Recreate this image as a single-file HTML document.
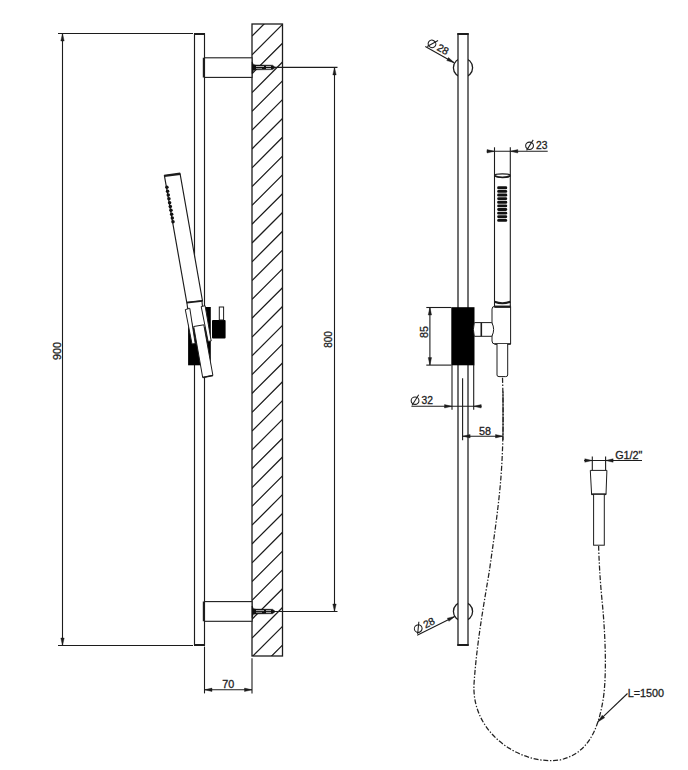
<!DOCTYPE html>
<html><head><meta charset="utf-8"><style>
html,body{margin:0;padding:0;background:#fff;}
svg{display:block;font-family:"Liberation Sans",sans-serif;}
</style></head><body>
<svg width="688" height="770" viewBox="0 0 688 770">
<rect width="688" height="770" fill="#fff"/>
<line x1="58" y1="33.5" x2="193" y2="33.5" stroke="#1c1c1c" stroke-width="1.1" />
<line x1="58" y1="645.5" x2="193" y2="645.5" stroke="#1c1c1c" stroke-width="1.1" />
<line x1="62.5" y1="33.5" x2="62.5" y2="645.5" stroke="#1c1c1c" stroke-width="1.1" />
<polygon points="62.50,33.50 64.20,41.00 60.80,41.00" fill="#1c1c1c" stroke="#1c1c1c" stroke-width="0.4" />
<polygon points="62.50,645.50 60.80,638.00 64.20,638.00" fill="#1c1c1c" stroke="#1c1c1c" stroke-width="0.4" />
<text x="60.6" y="351" font-size="10.8" text-anchor="middle" fill="#1e1e1e" stroke="#1e1e1e" stroke-width="0.3" transform="rotate(-90 60.6 351)">900</text>
<clipPath id="wc"><rect x="252" y="24" width="30.5" height="632"/></clipPath>
<path d="M252,17.28L282.5,-13.22M252,36.09L282.5,5.59M252,54.90L282.5,24.40M252,73.71L282.5,43.21M252,92.52L282.5,62.02M252,111.33L282.5,80.83M252,130.14L282.5,99.64M252,148.95L282.5,118.45M252,167.76L282.5,137.26M252,186.57L282.5,156.07M252,205.38L282.5,174.88M252,224.19L282.5,193.69M252,243.00L282.5,212.50M252,261.81L282.5,231.31M252,280.62L282.5,250.12M252,299.43L282.5,268.93M252,318.24L282.5,287.74M252,337.05L282.5,306.55M252,355.86L282.5,325.36M252,374.67L282.5,344.17M252,393.48L282.5,362.98M252,412.29L282.5,381.79M252,431.10L282.5,400.60M252,449.91L282.5,419.41M252,468.72L282.5,438.22M252,487.53L282.5,457.03M252,506.34L282.5,475.84M252,525.15L282.5,494.65M252,543.96L282.5,513.46M252,562.77L282.5,532.27M252,581.58L282.5,551.08M252,600.39L282.5,569.89M252,619.20L282.5,588.70M252,638.01L282.5,607.51M252,656.82L282.5,626.32M252,675.63L282.5,645.13M252,694.44L282.5,663.94M252,713.25L282.5,682.75" stroke="#1c1c1c" stroke-width="1.25" clip-path="url(#wc)" fill="none"/>
<rect x="252" y="24" width="30.5" height="632" fill="none" stroke="#1c1c1c" stroke-width="1.3"/>
<rect x="203.5" y="57.8" width="48.5" height="19.60000000000001" fill="#fff" stroke="#1c1c1c" stroke-width="1.1"/>
<rect x="203.5" y="601.6" width="48.5" height="19.699999999999932" fill="#fff" stroke="#1c1c1c" stroke-width="1.1"/>
<polygon points="252.00,61.90 253.50,64.60 256.00,65.00 272.50,65.20 275.50,67.40 272.50,69.60 256.00,69.80 253.50,70.20 252.00,73.40" fill="#111" stroke="#111" stroke-width="0.5" />
<line x1="256" y1="66.5" x2="264" y2="66.5" stroke="#ddd" stroke-width="0.8" />
<line x1="266" y1="66.5" x2="271" y2="66.5" stroke="#ddd" stroke-width="0.8" />
<line x1="256" y1="68.5" x2="262" y2="68.5" stroke="#bbb" stroke-width="0.7" />
<line x1="266" y1="68.5" x2="271" y2="68.5" stroke="#ddd" stroke-width="0.8" />
<polygon points="252.00,606.00 253.50,608.70 256.00,609.10 272.50,609.30 275.50,611.50 272.50,613.70 256.00,613.90 253.50,614.30 252.00,617.50" fill="#111" stroke="#111" stroke-width="0.5" />
<line x1="256" y1="610.6" x2="264" y2="610.6" stroke="#ddd" stroke-width="0.8" />
<line x1="266" y1="610.6" x2="271" y2="610.6" stroke="#ddd" stroke-width="0.8" />
<line x1="256" y1="612.6" x2="262" y2="612.6" stroke="#bbb" stroke-width="0.7" />
<line x1="266" y1="612.6" x2="271" y2="612.6" stroke="#ddd" stroke-width="0.8" />
<line x1="275" y1="67.4" x2="337.5" y2="67.4" stroke="#1c1c1c" stroke-width="1.1" />
<line x1="275" y1="611.5" x2="337.5" y2="611.5" stroke="#1c1c1c" stroke-width="1.1" />
<line x1="334.5" y1="67.4" x2="334.5" y2="611.5" stroke="#1c1c1c" stroke-width="1.1" />
<polygon points="334.50,67.40 336.20,74.90 332.80,74.90" fill="#1c1c1c" stroke="#1c1c1c" stroke-width="0.4" />
<polygon points="334.50,611.50 332.80,604.00 336.20,604.00" fill="#1c1c1c" stroke="#1c1c1c" stroke-width="0.4" />
<text x="331.9" y="339.5" font-size="10" text-anchor="middle" fill="#1e1e1e" stroke="#1e1e1e" stroke-width="0.3" transform="rotate(-90 331.9 339.5)">800</text>
<rect x="194.5" y="34" width="10" height="611" fill="#fff" stroke="#1c1c1c" stroke-width="1.15"/>
<line x1="194" y1="34" x2="205" y2="34" stroke="#1c1c1c" stroke-width="2" />
<line x1="194" y1="645" x2="205" y2="645" stroke="#1c1c1c" stroke-width="2" />
<line x1="203.4" y1="57.8" x2="203.4" y2="77.4" stroke="#1c1c1c" stroke-width="1.2" />
<line x1="203.4" y1="601.6" x2="203.4" y2="621.3" stroke="#1c1c1c" stroke-width="1.2" />
<line x1="204.5" y1="646.6" x2="204.5" y2="693.4" stroke="#1c1c1c" stroke-width="1.1" />
<line x1="252" y1="658.3" x2="252" y2="693.4" stroke="#1c1c1c" stroke-width="1.1" />
<line x1="204.5" y1="689.8" x2="252" y2="689.8" stroke="#1c1c1c" stroke-width="1.1" />
<polygon points="204.50,689.80 212.00,688.10 212.00,691.50" fill="#1c1c1c" stroke="#1c1c1c" stroke-width="0.4" />
<polygon points="252.00,689.80 244.50,691.50 244.50,688.10" fill="#1c1c1c" stroke="#1c1c1c" stroke-width="0.4" />
<text x="228.3" y="687.8" font-size="10.8" text-anchor="middle" fill="#1e1e1e" stroke="#1e1e1e" stroke-width="0.3">70</text>
<polygon points="164.40,175.70 180.10,173.80 202.50,300.90 186.80,302.60" fill="#fff" stroke="#1c1c1c" stroke-width="1.15" />
<line x1="164.2" y1="175.9" x2="180.3" y2="173.8" stroke="#1c1c1c" stroke-width="2.4" />
<circle cx="166.90" cy="187.30" r="1.75" fill="#111"/>
<circle cx="167.58" cy="191.13" r="1.75" fill="#111"/>
<circle cx="168.26" cy="194.97" r="1.75" fill="#111"/>
<circle cx="168.93" cy="198.80" r="1.75" fill="#111"/>
<circle cx="169.61" cy="202.63" r="1.75" fill="#111"/>
<circle cx="170.29" cy="206.47" r="1.75" fill="#111"/>
<circle cx="170.97" cy="210.30" r="1.75" fill="#111"/>
<circle cx="171.64" cy="214.13" r="1.75" fill="#111"/>
<circle cx="172.32" cy="217.97" r="1.75" fill="#111"/>
<circle cx="173.00" cy="221.80" r="1.75" fill="#111"/>
<rect x="188.1" y="307" width="22.7" height="58.3" fill="#000"/>
<polygon points="186.80,302.60 202.50,300.90 205.50,327.00 193.50,328.00" fill="#fff" stroke="none" stroke-width="0" />
<line x1="186.8" y1="302.6" x2="202.5" y2="300.9" stroke="#1c1c1c" stroke-width="1.8" />
<line x1="186.9" y1="302.6" x2="187.7" y2="309.2" stroke="#1c1c1c" stroke-width="1.1" />
<line x1="201.9" y1="300.6" x2="202.5" y2="306.6" stroke="#1c1c1c" stroke-width="1.1" />
<polygon points="185.30,309.60 189.80,308.30 195.20,343.60 192.00,344.00" fill="#fff" stroke="#1c1c1c" stroke-width="1" />
<polygon points="201.20,306.60 205.10,305.70 211.20,341.00 208.10,341.40" fill="#fff" stroke="#1c1c1c" stroke-width="1" />
<polygon points="193.70,326.50 203.80,324.80 212.90,375.40 202.70,377.50" fill="#fff" stroke="#1c1c1c" stroke-width="1" />
<line x1="202.7" y1="377.5" x2="212.9" y2="375.4" stroke="#1c1c1c" stroke-width="1.5" />
<rect x="212" y="320" width="13.6" height="18.4" rx="1" fill="#000"/>
<rect x="219.3" y="307" width="4.3" height="13" fill="#fff" stroke="#1c1c1c" stroke-width="1"/>
<circle cx="463" cy="67.7" r="9.6" fill="none" stroke="#1c1c1c" stroke-width="1.3"/>
<circle cx="463" cy="611.5" r="9.6" fill="none" stroke="#1c1c1c" stroke-width="1.3"/>
<rect x="458" y="34" width="10" height="611" fill="#fff" stroke="#1c1c1c" stroke-width="1.25"/>
<line x1="457.3" y1="34" x2="468.7" y2="34" stroke="#1c1c1c" stroke-width="2" />
<line x1="457.3" y1="645" x2="468.7" y2="645" stroke="#1c1c1c" stroke-width="2" />
<line x1="425.3" y1="46.6" x2="454.2" y2="62.7" stroke="#1c1c1c" stroke-width="1.1" />
<polygon points="454.20,62.70 446.77,60.62 448.52,57.48" fill="#1c1c1c" stroke="#1c1c1c" stroke-width="0.4" />
<g transform="translate(426.95 44.65) rotate(29)"><ellipse cx="4.05" cy="-3.1" rx="3.9" ry="3.7" fill="none" stroke="#1e1e1e" stroke-width="1.05"/><line x1="1.1" y1="1.5" x2="7.7" y2="-9" stroke="#1e1e1e" stroke-width="1.05"/><text x="10.6" y="0" font-size="10.3" fill="#1e1e1e" stroke="#1e1e1e" stroke-width="0.3">28</text></g>
<line x1="417.2" y1="635.2" x2="454.8" y2="616.4" stroke="#1c1c1c" stroke-width="1.1" />
<polygon points="454.80,616.40 448.90,621.36 447.29,618.14" fill="#1c1c1c" stroke="#1c1c1c" stroke-width="0.4" />
<g transform="translate(416.0 633.2) rotate(-26.6)"><ellipse cx="4.05" cy="-3.1" rx="3.9" ry="3.7" fill="none" stroke="#1e1e1e" stroke-width="1.05"/><line x1="1.1" y1="1.5" x2="7.7" y2="-9" stroke="#1e1e1e" stroke-width="1.05"/><text x="10.6" y="0" font-size="10.3" fill="#1e1e1e" stroke="#1e1e1e" stroke-width="0.3">28</text></g>
<rect x="451.3" y="307.2" width="23.2" height="58.1" fill="#000"/>
<line x1="426.3" y1="307.5" x2="451.3" y2="307.5" stroke="#1c1c1c" stroke-width="1.1" />
<line x1="426.3" y1="365.1" x2="451.3" y2="365.1" stroke="#1c1c1c" stroke-width="1.1" />
<line x1="429.9" y1="307.5" x2="429.9" y2="365.1" stroke="#1c1c1c" stroke-width="1.1" />
<polygon points="429.90,307.50 431.60,315.00 428.20,315.00" fill="#1c1c1c" stroke="#1c1c1c" stroke-width="0.4" />
<polygon points="429.90,365.10 428.20,357.60 431.60,357.60" fill="#1c1c1c" stroke="#1c1c1c" stroke-width="0.4" />
<text x="427.6" y="332" font-size="10.8" text-anchor="middle" fill="#1e1e1e" stroke="#1e1e1e" stroke-width="0.3" transform="rotate(-90 427.6 332)">85</text>
<line x1="452" y1="365" x2="452" y2="409.7" stroke="#1c1c1c" stroke-width="1.1" />
<line x1="473.7" y1="365" x2="473.7" y2="409.7" stroke="#1c1c1c" stroke-width="1.1" />
<line x1="462.6" y1="378.3" x2="462.6" y2="440.2" stroke="#1c1c1c" stroke-width="1.1" />
<line x1="411.4" y1="406.3" x2="481.7" y2="406.3" stroke="#1c1c1c" stroke-width="1.1" />
<polygon points="452.00,406.30 444.50,408.00 444.50,404.60" fill="#1c1c1c" stroke="#1c1c1c" stroke-width="0.4" />
<polygon points="473.70,406.30 481.20,404.60 481.20,408.00" fill="#1c1c1c" stroke="#1c1c1c" stroke-width="0.4" />
<g transform="translate(411.0 403.8) rotate(0)"><ellipse cx="4.05" cy="-3.1" rx="3.9" ry="3.7" fill="none" stroke="#1e1e1e" stroke-width="1.05"/><line x1="1.1" y1="1.5" x2="7.7" y2="-9" stroke="#1e1e1e" stroke-width="1.05"/><text x="10.6" y="0" font-size="10.3" fill="#1e1e1e" stroke="#1e1e1e" stroke-width="0.3">32</text></g>
<line x1="462.6" y1="436.2" x2="503" y2="436.2" stroke="#1c1c1c" stroke-width="1.1" />
<polygon points="462.60,436.20 470.10,434.50 470.10,437.90" fill="#1c1c1c" stroke="#1c1c1c" stroke-width="0.4" />
<polygon points="503.00,436.20 495.50,437.90 495.50,434.50" fill="#1c1c1c" stroke="#1c1c1c" stroke-width="0.4" />
<text x="485" y="434.7" font-size="10.8" text-anchor="middle" fill="#1e1e1e" stroke="#1e1e1e" stroke-width="0.3">58</text>
<line x1="494.5" y1="147.3" x2="494.5" y2="306" stroke="#1c1c1c" stroke-width="1.1" />
<line x1="510.3" y1="147.3" x2="510.3" y2="306" stroke="#1c1c1c" stroke-width="1.1" />
<line x1="486.8" y1="151.3" x2="547.7" y2="151.3" stroke="#1c1c1c" stroke-width="1.1" />
<polygon points="494.50,151.30 487.00,153.00 487.00,149.60" fill="#1c1c1c" stroke="#1c1c1c" stroke-width="0.4" />
<polygon points="510.30,151.30 517.80,149.60 517.80,153.00" fill="#1c1c1c" stroke="#1c1c1c" stroke-width="0.4" />
<g transform="translate(525.5 148.9) rotate(0)"><ellipse cx="4.05" cy="-3.1" rx="3.9" ry="3.7" fill="none" stroke="#1e1e1e" stroke-width="1.05"/><line x1="1.1" y1="1.5" x2="7.7" y2="-9" stroke="#1e1e1e" stroke-width="1.05"/><text x="10.6" y="0" font-size="10.3" fill="#1e1e1e" stroke="#1e1e1e" stroke-width="0.3">23</text></g>
<ellipse cx="502.4" cy="175.6" rx="7.9" ry="1.8" fill="#fff" stroke="#1c1c1c" stroke-width="1.2"/>
<path d="M494.6,175.8 Q502.4,179.2 510.2,175.8" fill="none" stroke="#1c1c1c" stroke-width="1.6"/>
<rect x="497.2" y="186.30" width="10" height="2.9" rx="1.3" fill="#111"/>
<rect x="497.2" y="189.92" width="10" height="2.9" rx="1.3" fill="#111"/>
<rect x="497.2" y="193.54" width="10" height="2.9" rx="1.3" fill="#111"/>
<rect x="497.2" y="197.16" width="10" height="2.9" rx="1.3" fill="#111"/>
<rect x="497.2" y="200.78" width="10" height="2.9" rx="1.3" fill="#111"/>
<rect x="497.2" y="204.40" width="10" height="2.9" rx="1.3" fill="#111"/>
<rect x="497.2" y="208.02" width="10" height="2.9" rx="1.3" fill="#111"/>
<rect x="497.2" y="211.64" width="10" height="2.9" rx="1.3" fill="#111"/>
<rect x="497.2" y="215.26" width="10" height="2.9" rx="1.3" fill="#111"/>
<rect x="497.2" y="218.88" width="10" height="2.9" rx="1.3" fill="#111"/>
<path d="M494.5,301.8 Q502.4,304.8 510.3,301.8" fill="none" stroke="#1c1c1c" stroke-width="2.1"/>
<path d="M492,309 Q492,306.3 495,306.3 L510.6,306.3 L510.6,344 L495,344 Q492,344 492,341 Z" fill="#fff" stroke="#1c1c1c" stroke-width="1"/>
<line x1="494.3" y1="306.8" x2="510.8" y2="306.8" stroke="#1c1c1c" stroke-width="2.2" />
<line x1="494.5" y1="344" x2="510.8" y2="344" stroke="#1c1c1c" stroke-width="1.4" />
<path d="M474.3,322.6 L491.8,322.6 Q495.5,329.5 491.8,336.3 L474.3,336.3 Q472.5,329.5 474.3,322.6 Z" fill="#fff" stroke="#1c1c1c" stroke-width="1"/>
<line x1="481.3" y1="322.6" x2="481.3" y2="336.3" stroke="#1c1c1c" stroke-width="1.6" />
<path d="M497,344 L497,375 Q497,376.6 499,376.6 L505.7,376.6 Q507.7,376.6 507.7,375 L507.7,344" fill="#fff" stroke="#1c1c1c" stroke-width="1"/>
<path d="M502.5,377.8 C503.5,410 503.5,440 501.2,473.9 C499,505 493,545 489.5,570 C485,598 477,640 474.1,682.7 C472,712 488,738 516.4,752.3 C530,759 545,762 560,760 C585,754 598,735 603.6,696.4 C607,670 605,630 602,600 C600,580 599,560 598.6,545.6" fill="none" stroke="#222" stroke-width="1.25" stroke-dasharray="5,1.7,1.4,1.7"/>
<line x1="503" y1="391.5" x2="503" y2="440" stroke="#1c1c1c" stroke-width="1.1" />
<line x1="592.3" y1="456.4" x2="592.3" y2="470.4" stroke="#1c1c1c" stroke-width="1.1" />
<line x1="605.6" y1="456.4" x2="605.6" y2="470.4" stroke="#1c1c1c" stroke-width="1.1" />
<line x1="584.1" y1="460.5" x2="642" y2="460.5" stroke="#1c1c1c" stroke-width="1.1" />
<polygon points="592.30,460.50 584.80,462.20 584.80,458.80" fill="#1c1c1c" stroke="#1c1c1c" stroke-width="0.4" />
<polygon points="605.60,460.50 613.10,458.80 613.10,462.20" fill="#1c1c1c" stroke="#1c1c1c" stroke-width="0.4" />
<text x="615.2" y="458.7" font-size="10.8" text-anchor="start" fill="#1e1e1e" stroke="#1e1e1e" stroke-width="0.3">G1/2"</text>
<polygon points="590.30,470.40 606.90,470.40 606.00,494.30 591.60,494.30" fill="#fff" stroke="#1c1c1c" stroke-width="1" />
<line x1="591.3" y1="494.3" x2="606.3" y2="494.3" stroke="#1c1c1c" stroke-width="1.6" />
<rect x="593.6" y="494.3" width="10.7" height="50.9" fill="#fff" stroke="#1c1c1c" stroke-width="1"/>
<line x1="627.5" y1="693.5" x2="598" y2="721.7" stroke="#1c1c1c" stroke-width="1.1" />
<polygon points="598.00,721.70 602.18,715.22 604.67,717.82" fill="#1c1c1c" stroke="#1c1c1c" stroke-width="0.4" />
<text x="627.8" y="697.3" font-size="10.8" text-anchor="start" fill="#1e1e1e" stroke="#1e1e1e" stroke-width="0.3">L=1500</text>
</svg>
</body></html>
